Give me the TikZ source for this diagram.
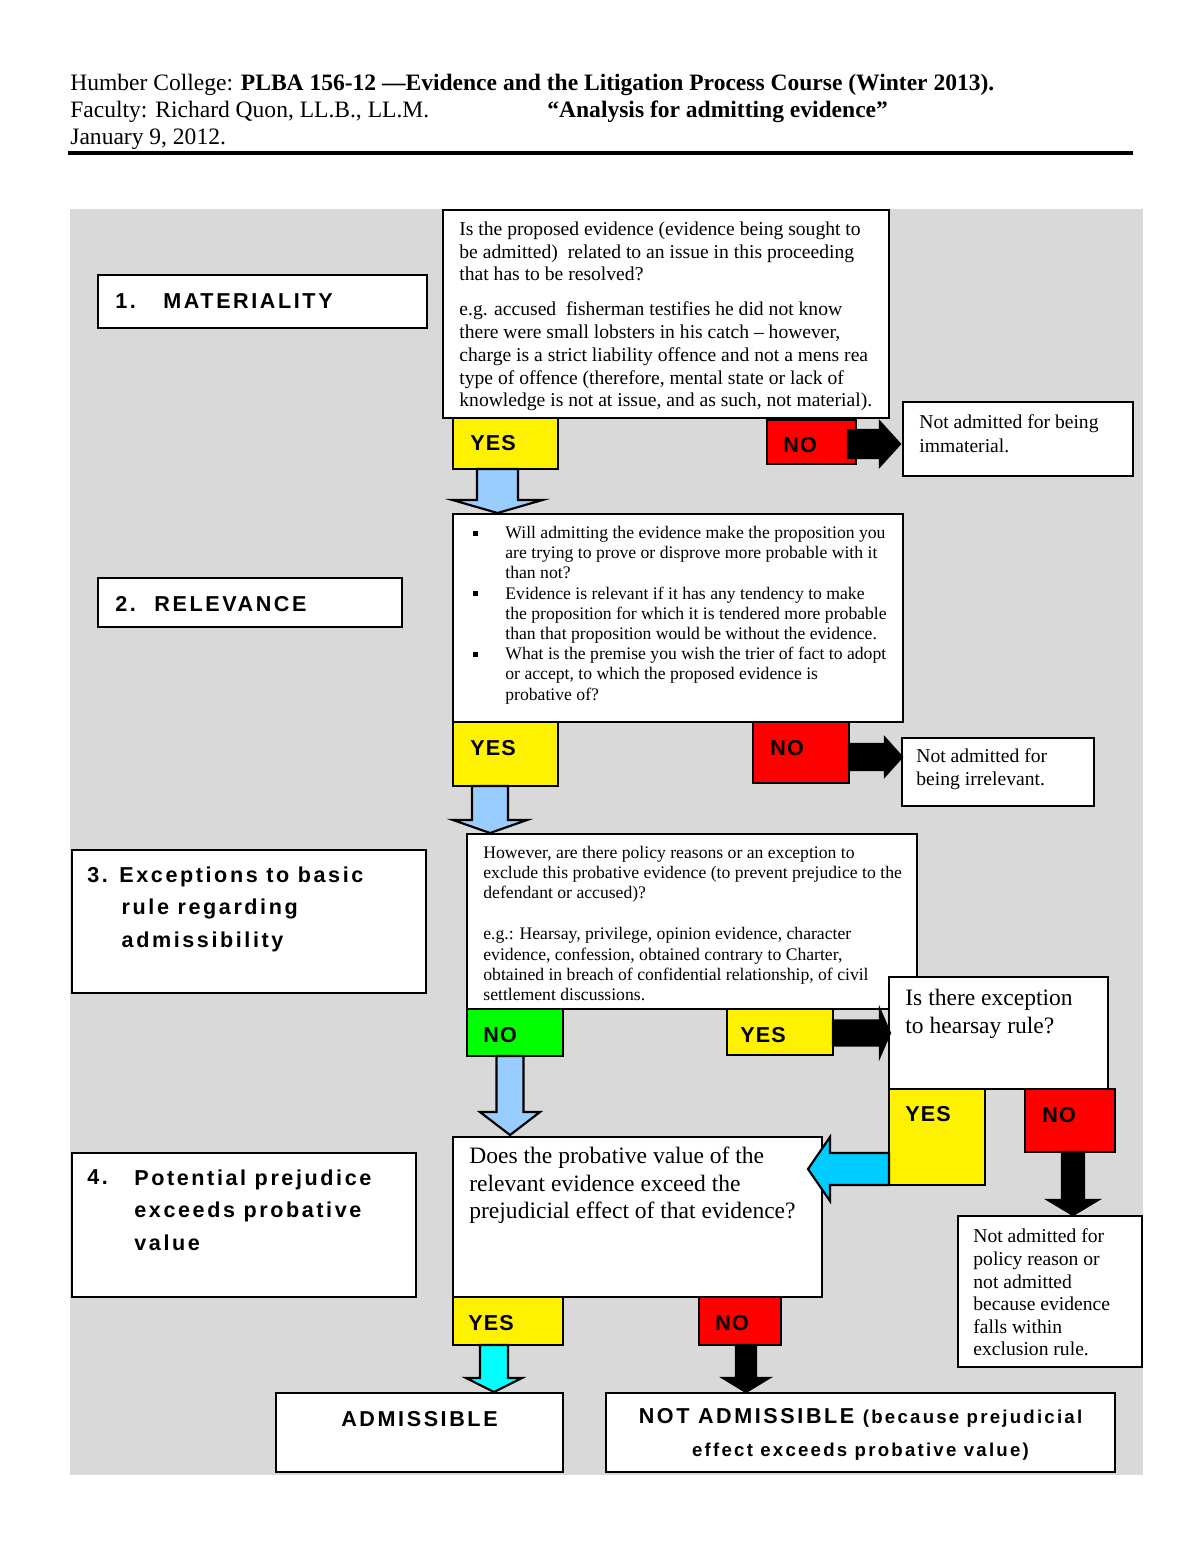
\documentclass[tikz,border=0pt]{standalone}
\usepackage{fontspec}
\setmainfont{Liberation Serif}
\newfontfamily\hdfont[LetterSpace=12]{Liberation Sans}
\newfontfamily\ynfont[LetterSpace=5]{Liberation Sans}
\definecolor{bggray}{HTML}{D9D9D9}
\definecolor{ltblue}{HTML}{99CCFF}
\definecolor{skyc}{HTML}{00CCFF}
\definecolor{aqua}{HTML}{00FFFF}
\definecolor{ygreen}{HTML}{00FF00}
\newcommand\bx[6]{\node[boxst,fill=#6,minimum width={0.51*(#4-#2)},minimum height={0.51*(#5-#3)}] (#1) at (#2,#3) {};}
% down arrow: xc, ytop, yhead, ytip, shaft half, head half, colour
\newcommand\dnarrow[7]{\draw[arrowst,fill=#7] ({#1-#5},#2) -- ({#1+#5},#2) -- ({#1+#5},#3) -- ({#1+#6},#3) -- (#1,#4) -- ({#1-#6},#3) -- ({#1-#5},#3) -- cycle;}
% horizontal arrow: xstart, xheadbase, xtip, yc, shaft half, head half, colour
\newcommand\hzarrow[7]{\draw[arrowst,fill=#7] (#1,{#4-#5}) -- (#2,{#4-#5}) -- (#2,{#4-#6}) -- (#3,#4) -- (#2,{#4+#6}) -- (#2,{#4+#5}) -- (#1,{#4+#5}) -- cycle;}
\begin{document}
\begin{tikzpicture}[x=0.51pt,y=-0.51pt,
  boxst/.style={draw=black,line width=1.4pt,anchor=north west,inner sep=0pt,outer sep=0pt},
  arrowst/.style={draw=black,line width=1.1pt,line join=miter},
  txt/.style={anchor=west,inner sep=0pt,align=left},
  hd/.style={txt,font=\hdfont\bfseries\fontsize{11}{16.8}\selectfont},
  yn/.style={txt,font=\ynfont\bfseries\fontsize{11}{13}\selectfont},
  hdr/.style={txt,font=\fontsize{12}{14}\selectfont}]
\useasboundingbox (0,0) rectangle (1200,1553);
\fill[white] (0,0) rectangle (1200,1553);
% header
\node[hdr] (h1) at (70,85) {Humber College: \textbf{PLBA 156-12 —Evidence and the Litigation Process Course (Winter 2013).}};
\node[hdr] (h2) at (70,112) {Faculty: Richard Quon, LL.B., LL.M.};
\node[hdr] (h2b) at (547,112) {\textbf{“Analysis for admitting evidence”}};
\node[hdr] (h3) at (70,139) {January 9, 2012.};
\draw[line width=2pt] (68,153) -- (1133,153);
% background
\fill[bggray] (70,209) rectangle (1143,1475);
% section boxes
\bx{mat}{98}{275}{427}{328}{white}
\bx{rel}{98}{578}{402}{627}{white}
\bx{exc}{72}{850}{426}{993}{white}
\bx{pot}{72}{1153}{416}{1297}{white}
% question boxes
\bx{q1}{443}{210}{889}{418}{white}
\bx{q2}{453}{514}{903}{722}{white}
\bx{q3}{467}{834}{917}{1009}{white}
\bx{q4}{453}{1137}{822}{1297}{white}
\bx{hs}{889}{977}{1108}{1089}{white}
% outcome boxes
\bx{imm}{903}{402}{1133}{476}{white}
\bx{irr}{902}{738}{1094}{806}{white}
\bx{pol}{958}{1216}{1142}{1367}{white}
\bx{adm}{276}{1393}{563}{1472}{white}
\bx{nadm}{606}{1393}{1115}{1472}{white}
% yes / no boxes
\bx{y1}{453}{418}{558}{469}{yellow}
\bx{n1}{767}{420}{856}{464}{red}
\bx{y2}{453}{722}{558}{786}{yellow}
\bx{n2}{753}{722}{849}{783}{red}
\bx{n3}{467}{1009}{563}{1056}{ygreen}
\bx{y3}{727}{1009}{833}{1055}{yellow}
\bx{y4}{889}{1089}{985}{1185}{yellow}
\bx{n4}{1025}{1089}{1115}{1152}{red}
\bx{y5}{453}{1297}{563}{1345}{yellow}
\bx{n5}{699}{1297}{781}{1345}{red}
% block arrows
\hzarrow{848}{880}{900}{444}{14}{22}{black}
\hzarrow{849}{885}{902}{757}{13}{19}{black}
\hzarrow{833}{880}{890}{1033}{12.5}{23}{black}
\hzarrow{889}{830}{808}{1169}{16}{32}{skyc}
\dnarrow{497.5}{469}{500}{513}{20.5}{45}{ltblue}
\dnarrow{490}{786}{820}{833}{18}{37}{ltblue}
\dnarrow{510}{1056}{1112}{1135}{13.5}{30}{ltblue}
\dnarrow{1073}{1152}{1200}{1215}{11}{25}{black}
\dnarrow{494}{1345}{1378}{1392}{14}{28}{aqua}
\dnarrow{746}{1345}{1378}{1392}{10}{23}{black}
% section texts
\node[hd] (mat1) at (115,301) {1.};
\node[hd] (mat2) at (163,301) {MATERIALITY};
\node[hd] (rel1) at (115,604) {2.};
\node[hd] (rel2) at (154,604) {RELEVANCE};
\node[hd,anchor=north west] (exc1) at (87,866) {3. Exceptions to basic\\\hspace*{17.5pt}rule regarding\\\hspace*{17.5pt}admissibility};
\node[hd,anchor=north west] (pot1) at (87,1169) {4.};
\node[hd,anchor=north west] (pot2) at (134,1169) {Potential prejudice\\exceeds probative\\value};
% question texts
\node[txt,font=\fontsize{10}{11.6}\selectfont] (q1t) at (459,316.5) {Is the proposed evidence (evidence being sought to\\be admitted) \ related to an issue in this proceeding\\that has to be resolved?\\[6.3pt]e.g. accused \ fisherman testifies he did not know\\there were small lobsters in his catch – however,\\charge is a strict liability offence and not a mens rea\\type of offence (therefore, mental state or lack of\\knowledge is not at issue, and as such, not material).};
\fill (473,531) rectangle (478,536);
\fill (473,591) rectangle (478,596);
\fill (473,652) rectangle (478,657);
\node[txt,font=\fontsize{9}{10.3}\selectfont] (q2t) at (505,615) {Will admitting the evidence make the proposition you\\are trying to prove or disprove more probable with it\\than not?\\Evidence is relevant if it has any tendency to make\\the proposition for which it is tendered more probable\\than that proposition would be without the evidence.\\What is the premise you wish the trier of fact to adopt\\or accept, to which the proposed evidence is\\probative of?};
\node[txt,font=\fontsize{9}{10.25}\selectfont] (q3t) at (483,923.5) {However, are there policy reasons or an exception to\\exclude this probative evidence (to prevent prejudice to the\\defendant or accused)?\\[10.7pt]e.g.: Hearsay, privilege, opinion evidence, character\\evidence, confession, obtained contrary to Charter,\\obtained in breach of confidential relationship, of civil\\settlement discussions.};
\node[txt,font=\fontsize{12}{14.3}\selectfont] (hst) at (905,1014) {Is there exception\\to hearsay rule?};
\node[txt,font=\fontsize{12}{14}\selectfont] (q4t) at (469,1185.5) {Does the probative value of the\\relevant evidence exceed the\\prejudicial effect of that evidence?};
% outcome texts
\node[txt,font=\fontsize{10}{12.2}\selectfont] (immt) at (919,434) {Not admitted for being\\immaterial.};
\node[txt,font=\fontsize{10}{11.7}\selectfont] (irrt) at (916,769.5) {Not admitted for\\being irrelevant.};
\node[txt,font=\fontsize{10}{11.5}\selectfont] (polt) at (973,1292.5) {Not admitted for\\policy reason or\\not admitted\\because evidence\\falls within\\exclusion rule.};
\node[hd,anchor=center] (admt) at (419.5,1419) {ADMISSIBLE};
\node[hd,anchor=center,align=center] (nadmt) at (860.5,1434.5) {NOT ADMISSIBLE {\fontsize{9.5}{14.8}\selectfont(because prejudicial}\\{\fontsize{9.5}{14.8}\selectfont effect exceeds probative value)}};
% yes / no texts
\node[yn] (y1t) at (470,443) {YES};
\node[yn] (n1t) at (783,445) {NO};
\node[yn] (y2t) at (470,748) {YES};
\node[yn] (n2t) at (770,748) {NO};
\node[yn] (n3t) at (483,1035) {NO};
\node[yn] (y3t) at (740,1035) {YES};
\node[yn] (y4t) at (905,1114) {YES};
\node[yn] (n4t) at (1042,1115) {NO};
\node[yn] (y5t) at (468,1323) {YES};
\node[yn] (n5t) at (715,1323) {NO};
\end{tikzpicture}
\end{document}
